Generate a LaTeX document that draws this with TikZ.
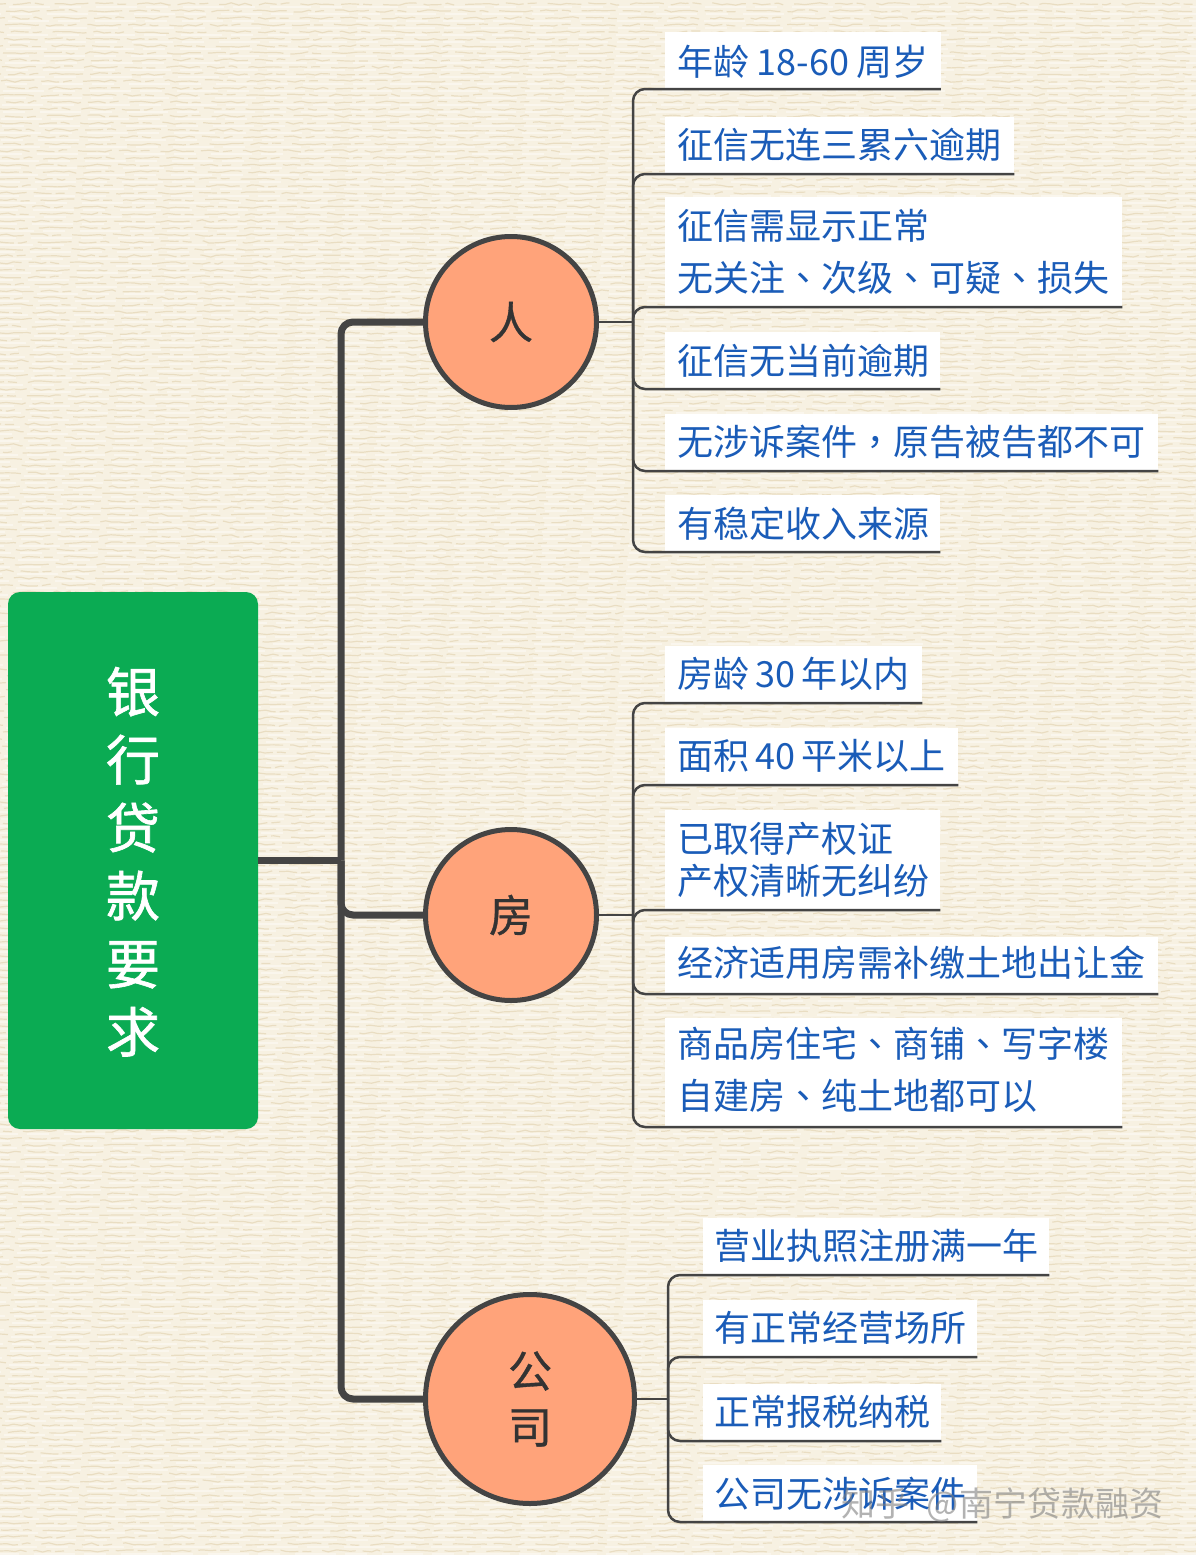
\documentclass[tikz,border=0pt]{standalone}
\usepackage{fontspec}
\usetikzlibrary{decorations.pathmorphing}
\setmainfont{Noto Sans CJK SC}
\newfontfamily\tcfont{Noto Sans CJK TC}
\newfontfamily\rootfont[FakeBold=1.2]{Noto Sans CJK SC}
\newfontfamily\topicfont[FakeBold=0.8]{Noto Sans CJK SC}
\newcommand{\dun}{{\tcfont 、}}
\newcommand{\dou}{{\tcfont\char"FF0C\relax}}
\definecolor{paper}{HTML}{F7F1E2}
\definecolor{paperdark}{HTML}{E4D5B5}
\definecolor{linegray}{HTML}{444444}
\definecolor{rootgreen}{HTML}{0BAB53}
\definecolor{topicorange}{HTML}{FFA37A}
\definecolor{itemblue}{HTML}{1A5CB8}
\tikzset{
	root/.style={fill=rootgreen,text=white,rounded corners=12pt,minimum width=250pt,minimum height=537pt,inner sep=0pt,align=center,text depth=2pt,font=\rootfont\fontsize{54}{68}\selectfont},
	topic/.style={circle,draw=linegray,line width=5pt,fill=topicorange,text=black!80,inner sep=0pt,align=center,font=\topicfont\fontsize{44}{56}\selectfont},
	item/.style={fill=white,text=itemblue,anchor=south west,inner xsep=12.5pt,inner ysep=0pt,minimum height=#1,align=left,font=\fontsize{36}{52}\selectfont},
	item/.default=57pt,
	gongsi item/.style={item,inner xsep=11pt},
	thick line/.style={draw=linegray,line width=7pt,rounded corners=12pt},
	thin line/.style={draw=linegray,line width=2.5pt,rounded corners=12pt},
}
\begin{document}
\begin{tikzpicture}[x=1pt,y=-1pt]
	\useasboundingbox(0,0)rectangle(1196,1555);
	\fill[paper](0,0)rectangle(1196,1555);
	\pgfmathsetseed{7}
	\foreach \yy in {4,11,...,1555}{
		\pgfmathsetmacro{\ph}{int(mod(\yy*7,97))}
		\draw[paperdark,line width=1.2pt,opacity=.7,dash pattern=on 34pt off 7pt on 18pt off 4pt on 9pt off 11pt,dash phase=\ph pt,decorate,decoration={random steps,segment length=7pt,amplitude=1.2pt}](0,\yy)--(1196,\yy);
		\draw[white,line width=1.5pt,opacity=.4,dash pattern=on 22pt off 15pt on 41pt off 9pt,dash phase=\ph pt](0,\yy+3)--(1196,\yy+3);
	}

	\node[root](root)at(133,860.5){银\\行\\贷\\款\\要\\求};
	\node[topic,minimum size=171pt](ren)at(511,322){人};
	\node[topic,minimum size=171pt](fang)at(511,915){房};
	\node[topic,minimum size=209pt](gongsi)at(530,1399){公\\司};

	\begin{scope}
		\node[item,text height=31pt,text depth=0pt](ren1)at(665,89){年龄\kern7pt18-60\kern7pt周岁};
		\node[item](ren2)at(665,174){征信无连三累六逾期};
		\node[item=110pt](ren3)at(665,307){征信需显示正常\\无关注\dun 次级\dun 可疑\dun 损失};
		\node[item](ren4)at(665,389){征信无当前逾期\kern-2pt};
		\node[item](ren5)at(665,471){无涉诉案件\dou 原告被告都不可};
		\node[item](ren6)at(665,552){有稳定收入来源\kern-2pt};
		\coordinate(renhub)at(633,322);
		\draw[thin line,rounded corners=0pt](ren)--(renhub);
		\foreach \i in {1,...,6}{
			\draw[thin line](renhub)|-(ren\i.south east);
		}
	\end{scope}

	\begin{scope}
		\node[item](fang1)at(665,703){房龄\kern6pt30\kern6pt年以内};
		\node[item](fang2)at(665,785){面积\kern6pt40\kern6pt平米以上};
		\node[item=100pt,font=\fontsize{36}{42}\selectfont](fang3)at(665,910){已取得产权证\\产权清晰无纠纷\kern-2pt};
		\node[item,text depth=8pt](fang4)at(665,994){经济适用房需补缴土地出让金};
		\node[item=109pt,text depth=8pt](fang5)at(665,1127){商品房住宅\dun 商铺\dun 写字楼\\自建房\dun 纯土地都可以};
		\coordinate(fanghub)at(633,915);
		\draw[thin line,rounded corners=0pt](fang)--(fanghub);
		\foreach \i in {1,...,5}{
			\draw[thin line](fanghub)|-(fang\i.south east);
		}
	\end{scope}

	\begin{scope}
		\node[gongsi item](gongsi1)at(703,1275){营业执照注册满一年};
		\node[gongsi item](gongsi2)at(703,1357){有正常经营场所};
		\node[gongsi item](gongsi3)at(703,1441){正常报税纳税};
		\node[gongsi item](gongsi4)at(703,1522){公司无涉诉案件};
		\coordinate(gongsihub)at(668,1399);
		\draw[thin line,rounded corners=0pt](gongsi)--(gongsihub);
		\foreach \i in {1,...,4}{
			\draw[thin line](gongsihub)|-(gongsi\i.south east);
		}
	\end{scope}

	\coordinate(trunk)at(341,860.5);
	\draw[thick line,rounded corners=0pt](root)--(trunk);
	\draw[thick line](trunk)|-(ren);
	\draw[thick line](trunk)|-(fang);
	\draw[thick line](trunk)|-(gongsi);

	\node[text=gray,opacity=.6,font=\fontsize{34}{34}\selectfont](mark)at(1002.5,1505){知乎\kern17pt @南宁贷款融资};
\end{tikzpicture}
\end{document}
